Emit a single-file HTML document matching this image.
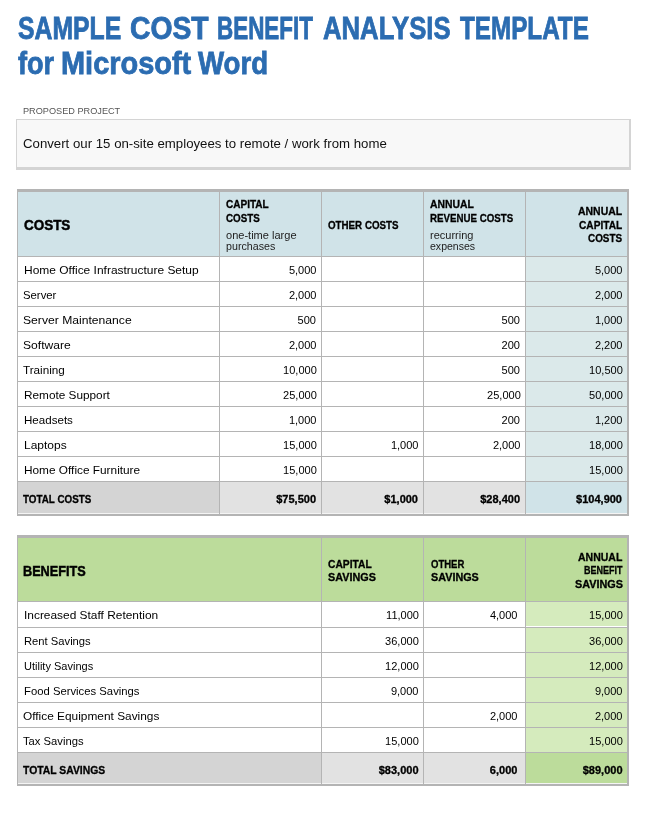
<!DOCTYPE html>
<html lang="en"><head><meta charset="utf-8"><title>Sample Cost Benefit Analysis Template</title>
<style>
html,body{margin:0;padding:0;background:#fff}
#pg{position:relative;width:646px;height:814px;overflow:hidden;background:#fff;font-family:'Liberation Sans', sans-serif}
#pg div{position:absolute}
.t{white-space:nowrap;line-height:1;height:0;overflow:visible}
.t span{position:absolute;left:0;bottom:0;display:block;transform-origin:0 100%}
.t.r span{left:auto;right:0;transform-origin:100% 100%}
</style></head><body><div id="pg">
<div style="left:16px;top:119px;width:615px;height:51px;background:#d4d4d4"></div>
<div style="left:17px;top:120px;width:612px;height:47px;background:#f8f8f8"></div>
<div style="left:17px;top:189px;width:612px;height:327px;background:#b4b4b4"></div>
<div style="left:18px;top:192px;width:201px;height:64px;background:#d0e3e8"></div>
<div style="left:220px;top:192px;width:101px;height:64px;background:#d0e3e8"></div>
<div style="left:322px;top:192px;width:101px;height:64px;background:#d0e3e8"></div>
<div style="left:424px;top:192px;width:101px;height:64px;background:#d0e3e8"></div>
<div style="left:526px;top:192px;width:101px;height:64px;background:#d0e3e8"></div>
<div style="left:18px;top:257px;width:201px;height:24px;background:#fff"></div>
<div style="left:220px;top:257px;width:101px;height:24px;background:#fff"></div>
<div style="left:322px;top:257px;width:101px;height:24px;background:#fff"></div>
<div style="left:424px;top:257px;width:101px;height:24px;background:#fff"></div>
<div style="left:526px;top:257px;width:101px;height:24px;background:#dbe9ea"></div>
<div style="left:18px;top:282px;width:201px;height:24px;background:#fff"></div>
<div style="left:220px;top:282px;width:101px;height:24px;background:#fff"></div>
<div style="left:322px;top:282px;width:101px;height:24px;background:#fff"></div>
<div style="left:424px;top:282px;width:101px;height:24px;background:#fff"></div>
<div style="left:526px;top:282px;width:101px;height:24px;background:#dbe9ea"></div>
<div style="left:18px;top:307px;width:201px;height:24px;background:#fff"></div>
<div style="left:220px;top:307px;width:101px;height:24px;background:#fff"></div>
<div style="left:322px;top:307px;width:101px;height:24px;background:#fff"></div>
<div style="left:424px;top:307px;width:101px;height:24px;background:#fff"></div>
<div style="left:526px;top:307px;width:101px;height:24px;background:#dbe9ea"></div>
<div style="left:18px;top:332px;width:201px;height:24px;background:#fff"></div>
<div style="left:220px;top:332px;width:101px;height:24px;background:#fff"></div>
<div style="left:322px;top:332px;width:101px;height:24px;background:#fff"></div>
<div style="left:424px;top:332px;width:101px;height:24px;background:#fff"></div>
<div style="left:526px;top:332px;width:101px;height:24px;background:#dbe9ea"></div>
<div style="left:18px;top:357px;width:201px;height:24px;background:#fff"></div>
<div style="left:220px;top:357px;width:101px;height:24px;background:#fff"></div>
<div style="left:322px;top:357px;width:101px;height:24px;background:#fff"></div>
<div style="left:424px;top:357px;width:101px;height:24px;background:#fff"></div>
<div style="left:526px;top:357px;width:101px;height:24px;background:#dbe9ea"></div>
<div style="left:18px;top:382px;width:201px;height:24px;background:#fff"></div>
<div style="left:220px;top:382px;width:101px;height:24px;background:#fff"></div>
<div style="left:322px;top:382px;width:101px;height:24px;background:#fff"></div>
<div style="left:424px;top:382px;width:101px;height:24px;background:#fff"></div>
<div style="left:526px;top:382px;width:101px;height:24px;background:#dbe9ea"></div>
<div style="left:18px;top:407px;width:201px;height:24px;background:#fff"></div>
<div style="left:220px;top:407px;width:101px;height:24px;background:#fff"></div>
<div style="left:322px;top:407px;width:101px;height:24px;background:#fff"></div>
<div style="left:424px;top:407px;width:101px;height:24px;background:#fff"></div>
<div style="left:526px;top:407px;width:101px;height:24px;background:#dbe9ea"></div>
<div style="left:18px;top:432px;width:201px;height:24px;background:#fff"></div>
<div style="left:220px;top:432px;width:101px;height:24px;background:#fff"></div>
<div style="left:322px;top:432px;width:101px;height:24px;background:#fff"></div>
<div style="left:424px;top:432px;width:101px;height:24px;background:#fff"></div>
<div style="left:526px;top:432px;width:101px;height:24px;background:#dbe9ea"></div>
<div style="left:18px;top:457px;width:201px;height:24px;background:#fff"></div>
<div style="left:220px;top:457px;width:101px;height:24px;background:#fff"></div>
<div style="left:322px;top:457px;width:101px;height:24px;background:#fff"></div>
<div style="left:424px;top:457px;width:101px;height:24px;background:#fff"></div>
<div style="left:526px;top:457px;width:101px;height:24px;background:#dbe9ea"></div>
<div style="left:18px;top:482px;width:201px;height:31px;background:#d4d4d4"></div>
<div style="left:220px;top:482px;width:101px;height:31px;background:#e2e2e2"></div>
<div style="left:322px;top:482px;width:101px;height:31px;background:#e2e2e2"></div>
<div style="left:424px;top:482px;width:101px;height:31px;background:#e2e2e2"></div>
<div style="left:526px;top:482px;width:101px;height:31px;background:#d0e3e8"></div>
<div style="left:18px;top:513px;width:201px;height:1px;background:#f4f4f4"></div>
<div style="left:220px;top:513px;width:101px;height:1px;background:#f4f4f4"></div>
<div style="left:322px;top:513px;width:101px;height:1px;background:#f4f4f4"></div>
<div style="left:424px;top:513px;width:101px;height:1px;background:#f4f4f4"></div>
<div style="left:526px;top:513px;width:101px;height:1px;background:#f4f4f4"></div>
<div style="left:17px;top:535px;width:612px;height:251px;background:#b4b4b4"></div>
<div style="left:18px;top:538px;width:303px;height:63px;background:#bcdc9b"></div>
<div style="left:322px;top:538px;width:101px;height:63px;background:#bcdc9b"></div>
<div style="left:424px;top:538px;width:101px;height:63px;background:#bcdc9b"></div>
<div style="left:526px;top:538px;width:101px;height:63px;background:#bcdc9b"></div>
<div style="left:18px;top:602px;width:303px;height:25px;background:#fff"></div>
<div style="left:322px;top:602px;width:101px;height:25px;background:#fff"></div>
<div style="left:424px;top:602px;width:101px;height:25px;background:#fff"></div>
<div style="left:526px;top:602px;width:101px;height:25px;background:#d5ebbd"></div>
<div style="left:18px;top:628px;width:303px;height:24px;background:#fff"></div>
<div style="left:322px;top:628px;width:101px;height:24px;background:#fff"></div>
<div style="left:424px;top:628px;width:101px;height:24px;background:#fff"></div>
<div style="left:526px;top:628px;width:101px;height:24px;background:#d5ebbd"></div>
<div style="left:18px;top:653px;width:303px;height:24px;background:#fff"></div>
<div style="left:322px;top:653px;width:101px;height:24px;background:#fff"></div>
<div style="left:424px;top:653px;width:101px;height:24px;background:#fff"></div>
<div style="left:526px;top:653px;width:101px;height:24px;background:#d5ebbd"></div>
<div style="left:18px;top:678px;width:303px;height:24px;background:#fff"></div>
<div style="left:322px;top:678px;width:101px;height:24px;background:#fff"></div>
<div style="left:424px;top:678px;width:101px;height:24px;background:#fff"></div>
<div style="left:526px;top:678px;width:101px;height:24px;background:#d5ebbd"></div>
<div style="left:18px;top:703px;width:303px;height:24px;background:#fff"></div>
<div style="left:322px;top:703px;width:101px;height:24px;background:#fff"></div>
<div style="left:424px;top:703px;width:101px;height:24px;background:#fff"></div>
<div style="left:526px;top:703px;width:101px;height:24px;background:#d5ebbd"></div>
<div style="left:18px;top:728px;width:303px;height:24px;background:#fff"></div>
<div style="left:322px;top:728px;width:101px;height:24px;background:#fff"></div>
<div style="left:424px;top:728px;width:101px;height:24px;background:#fff"></div>
<div style="left:526px;top:728px;width:101px;height:24px;background:#d5ebbd"></div>
<div style="left:18px;top:753px;width:303px;height:30px;background:#d4d4d4"></div>
<div style="left:322px;top:753px;width:101px;height:30px;background:#e2e2e2"></div>
<div style="left:424px;top:753px;width:101px;height:30px;background:#e2e2e2"></div>
<div style="left:526px;top:753px;width:101px;height:30px;background:#bcdc9b"></div>
<div style="left:18px;top:783px;width:303px;height:1px;background:#f4f4f4"></div>
<div style="left:322px;top:783px;width:101px;height:1px;background:#f4f4f4"></div>
<div style="left:424px;top:783px;width:101px;height:1px;background:#f4f4f4"></div>
<div style="left:526px;top:783px;width:101px;height:1px;background:#f4f4f4"></div>
<div style="left:526px;top:626px;width:101px;height:1px;background:#fff"></div>
<div class="t" style="left:18.32px;top:44.00px;font-size:31px;color:#2b6cb1;font-weight:bold;-webkit-text-stroke:0.8px #2b6cb1"><span style="transform:scaleX(0.7989)">SAMPLE</span></div>
<div class="t" style="left:129.75px;top:44.00px;font-size:31px;color:#2b6cb1;font-weight:bold;-webkit-text-stroke:0.8px #2b6cb1"><span style="transform:scaleX(0.9130)">COST</span></div>
<div class="t" style="left:217.14px;top:44.00px;font-size:31px;color:#2b6cb1;font-weight:bold;-webkit-text-stroke:0.8px #2b6cb1"><span style="transform:scaleX(0.7233)">BENEFIT</span></div>
<div class="t" style="left:323.33px;top:44.00px;font-size:31px;color:#2b6cb1;font-weight:bold;-webkit-text-stroke:0.8px #2b6cb1"><span style="transform:scaleX(0.8291)">ANALYSIS</span></div>
<div class="t" style="left:460.01px;top:44.00px;font-size:31px;color:#2b6cb1;font-weight:bold;-webkit-text-stroke:0.8px #2b6cb1"><span style="transform:scaleX(0.7818)">TEMPLATE</span></div>
<div class="t" style="left:18.45px;top:79.00px;font-size:31px;color:#2b6cb1;font-weight:bold;-webkit-text-stroke:0.8px #2b6cb1"><span style="transform:scaleX(0.8750)">for</span></div>
<div class="t" style="left:60.91px;top:79.00px;font-size:31px;color:#2b6cb1;font-weight:bold;-webkit-text-stroke:0.8px #2b6cb1"><span style="transform:scaleX(0.9335)">Microsoft</span></div>
<div class="t" style="left:197.56px;top:79.00px;font-size:31px;color:#2b6cb1;font-weight:bold;-webkit-text-stroke:0.8px #2b6cb1"><span style="transform:scaleX(0.8916)">Word</span></div>
<div class="t" style="left:23.00px;top:116.20px;font-size:9.2px;color:#555"><span style="transform:scaleX(0.9970)">PROPOSED PROJECT</span></div>
<div class="t" style="left:22.70px;top:150.70px;font-size:12.7px;color:#111"><span style="transform:scaleX(1.0421)">Convert our 15 on-site employees to remote / work from home</span></div>
<div class="t" style="left:24.02px;top:232.30px;font-size:15.3px;color:#000;font-weight:bold;-webkit-text-stroke:0.5px #000"><span style="transform:scaleX(0.8794)">COSTS</span></div>
<div class="t" style="left:226.14px;top:209.67px;font-size:10.67px;color:#000;font-weight:bold;-webkit-text-stroke:0.3px #000"><span style="transform:scaleX(0.9421)">CAPITAL</span></div>
<div class="t" style="left:226.14px;top:223.67px;font-size:10.67px;color:#000;font-weight:bold;-webkit-text-stroke:0.3px #000"><span style="transform:scaleX(0.9187)">COSTS</span></div>
<div class="t" style="left:225.70px;top:241.00px;font-size:10px;color:#222"><span style="transform:scaleX(1.1032)">one-time large</span></div>
<div class="t" style="left:225.70px;top:252.00px;font-size:10px;color:#222"><span style="transform:scaleX(1.0685)">purchases</span></div>
<div class="t" style="left:327.74px;top:230.67px;font-size:10.67px;color:#000;font-weight:bold;-webkit-text-stroke:0.3px #000"><span style="transform:scaleX(0.9163)">OTHER COSTS</span></div>
<div class="t" style="left:429.75px;top:209.67px;font-size:10.67px;color:#000;font-weight:bold;-webkit-text-stroke:0.3px #000"><span style="transform:scaleX(0.9743)">ANNUAL</span></div>
<div class="t" style="left:429.74px;top:223.67px;font-size:10.67px;color:#000;font-weight:bold;-webkit-text-stroke:0.3px #000"><span style="transform:scaleX(0.9116)">REVENUE COSTS</span></div>
<div class="t" style="left:429.60px;top:241.00px;font-size:10px;color:#222"><span style="transform:scaleX(1.1004)">recurring</span></div>
<div class="t" style="left:429.60px;top:252.00px;font-size:10px;color:#222"><span style="transform:scaleX(1.0536)">expenses</span></div>
<div class="t" style="left:577.55px;top:216.67px;font-size:10.67px;color:#000;font-weight:bold;-webkit-text-stroke:0.3px #000"><span style="transform:scaleX(0.9808)">ANNUAL</span></div>
<div class="t" style="left:578.54px;top:230.67px;font-size:10.67px;color:#000;font-weight:bold;-webkit-text-stroke:0.3px #000"><span style="transform:scaleX(0.9508)">CAPITAL</span></div>
<div class="t" style="left:588.14px;top:243.67px;font-size:10.67px;color:#000;font-weight:bold;-webkit-text-stroke:0.3px #000"><span style="transform:scaleX(0.9295)">COSTS</span></div>
<div class="t" style="left:23.90px;top:276.41px;font-size:11.4px;color:#000"><span style="transform:scaleX(1.0503)">Home Office Infrastructure Setup</span></div>
<div class="t r" style="left:316.40px;top:276.41px;font-size:11.4px;color:#000"><span style="transform:scaleX(0.9684)">5,000</span></div>
<div class="t r" style="left:622.40px;top:276.41px;font-size:11.4px;color:#000"><span style="transform:scaleX(0.9684)">5,000</span></div>
<div class="t" style="left:23.30px;top:301.41px;font-size:11.4px;color:#000"><span style="transform:scaleX(0.9954)">Server</span></div>
<div class="t r" style="left:316.40px;top:301.41px;font-size:11.4px;color:#000"><span style="transform:scaleX(0.9684)">2,000</span></div>
<div class="t r" style="left:622.40px;top:301.41px;font-size:11.4px;color:#000"><span style="transform:scaleX(0.9684)">2,000</span></div>
<div class="t" style="left:23.30px;top:326.41px;font-size:11.4px;color:#000"><span style="transform:scaleX(1.0659)">Server Maintenance</span></div>
<div class="t r" style="left:316.40px;top:326.41px;font-size:11.4px;color:#000"><span style="transform:scaleX(0.9684)">500</span></div>
<div class="t r" style="left:520.40px;top:326.41px;font-size:11.4px;color:#000"><span style="transform:scaleX(0.9684)">500</span></div>
<div class="t r" style="left:622.40px;top:326.41px;font-size:11.4px;color:#000"><span style="transform:scaleX(0.9684)">1,000</span></div>
<div class="t" style="left:23.30px;top:351.41px;font-size:11.4px;color:#000"><span style="transform:scaleX(1.0602)">Software</span></div>
<div class="t r" style="left:316.40px;top:351.41px;font-size:11.4px;color:#000"><span style="transform:scaleX(0.9684)">2,000</span></div>
<div class="t r" style="left:520.40px;top:351.41px;font-size:11.4px;color:#000"><span style="transform:scaleX(0.9684)">200</span></div>
<div class="t r" style="left:622.40px;top:351.41px;font-size:11.4px;color:#000"><span style="transform:scaleX(0.9684)">2,200</span></div>
<div class="t" style="left:23.20px;top:376.41px;font-size:11.4px;color:#000"><span style="transform:scaleX(1.0274)">Training</span></div>
<div class="t r" style="left:316.40px;top:376.41px;font-size:11.4px;color:#000"><span style="transform:scaleX(0.9684)">10,000</span></div>
<div class="t r" style="left:520.40px;top:376.41px;font-size:11.4px;color:#000"><span style="transform:scaleX(0.9684)">500</span></div>
<div class="t r" style="left:622.40px;top:376.41px;font-size:11.4px;color:#000"><span style="transform:scaleX(0.9684)">10,500</span></div>
<div class="t" style="left:23.90px;top:401.41px;font-size:11.4px;color:#000"><span style="transform:scaleX(1.0349)">Remote Support</span></div>
<div class="t r" style="left:316.40px;top:401.41px;font-size:11.4px;color:#000"><span style="transform:scaleX(0.9684)">25,000</span></div>
<div class="t r" style="left:520.40px;top:401.41px;font-size:11.4px;color:#000"><span style="transform:scaleX(0.9684)">25,000</span></div>
<div class="t r" style="left:622.40px;top:401.41px;font-size:11.4px;color:#000"><span style="transform:scaleX(0.9684)">50,000</span></div>
<div class="t" style="left:23.90px;top:426.41px;font-size:11.4px;color:#000"><span style="transform:scaleX(1.0160)">Headsets</span></div>
<div class="t r" style="left:316.40px;top:426.41px;font-size:11.4px;color:#000"><span style="transform:scaleX(0.9684)">1,000</span></div>
<div class="t r" style="left:520.40px;top:426.41px;font-size:11.4px;color:#000"><span style="transform:scaleX(0.9684)">200</span></div>
<div class="t r" style="left:622.40px;top:426.41px;font-size:11.4px;color:#000"><span style="transform:scaleX(0.9684)">1,200</span></div>
<div class="t" style="left:23.90px;top:451.41px;font-size:11.4px;color:#000"><span style="transform:scaleX(1.0529)">Laptops</span></div>
<div class="t r" style="left:316.40px;top:451.41px;font-size:11.4px;color:#000"><span style="transform:scaleX(0.9684)">15,000</span></div>
<div class="t r" style="left:418.40px;top:451.41px;font-size:11.4px;color:#000"><span style="transform:scaleX(0.9684)">1,000</span></div>
<div class="t r" style="left:520.40px;top:451.41px;font-size:11.4px;color:#000"><span style="transform:scaleX(0.9684)">2,000</span></div>
<div class="t r" style="left:622.40px;top:451.41px;font-size:11.4px;color:#000"><span style="transform:scaleX(0.9684)">18,000</span></div>
<div class="t" style="left:23.90px;top:476.41px;font-size:11.4px;color:#000"><span style="transform:scaleX(1.0385)">Home Office Furniture</span></div>
<div class="t r" style="left:316.40px;top:476.41px;font-size:11.4px;color:#000"><span style="transform:scaleX(0.9684)">15,000</span></div>
<div class="t r" style="left:622.40px;top:476.41px;font-size:11.4px;color:#000"><span style="transform:scaleX(0.9684)">15,000</span></div>
<div class="t" style="left:23.44px;top:504.67px;font-size:10.67px;color:#000;font-weight:bold;-webkit-text-stroke:0.3px #000"><span style="transform:scaleX(0.9222)">TOTAL COSTS</span></div>
<div class="t r" style="left:316.00px;top:505.00px;font-size:11px;color:#000;font-weight:bold;-webkit-text-stroke:0.3px #000"><span>$75,500</span></div>
<div class="t r" style="left:418.00px;top:505.00px;font-size:11px;color:#000;font-weight:bold;-webkit-text-stroke:0.3px #000"><span>$1,000</span></div>
<div class="t r" style="left:520.00px;top:505.00px;font-size:11px;color:#000;font-weight:bold;-webkit-text-stroke:0.3px #000"><span>$28,400</span></div>
<div class="t r" style="left:622.00px;top:505.00px;font-size:11px;color:#000;font-weight:bold;-webkit-text-stroke:0.3px #000"><span>$104,900</span></div>
<div class="t" style="left:23.28px;top:578.30px;font-size:15.3px;color:#000;font-weight:bold;-webkit-text-stroke:0.5px #000"><span style="transform:scaleX(0.8287)">BENEFITS</span></div>
<div class="t" style="left:328.44px;top:569.67px;font-size:10.67px;color:#000;font-weight:bold;-webkit-text-stroke:0.3px #000"><span style="transform:scaleX(0.9616)">CAPITAL</span></div>
<div class="t" style="left:328.45px;top:582.67px;font-size:10.67px;color:#000;font-weight:bold;-webkit-text-stroke:0.3px #000"><span style="transform:scaleX(1.0155)">SAVINGS</span></div>
<div class="t" style="left:430.53px;top:569.67px;font-size:10.67px;color:#000;font-weight:bold;-webkit-text-stroke:0.3px #000"><span style="transform:scaleX(0.8944)">OTHER</span></div>
<div class="t" style="left:430.55px;top:582.67px;font-size:10.67px;color:#000;font-weight:bold;-webkit-text-stroke:0.3px #000"><span style="transform:scaleX(1.0134)">SAVINGS</span></div>
<div class="t" style="left:578.35px;top:562.67px;font-size:10.67px;color:#000;font-weight:bold;-webkit-text-stroke:0.3px #000"><span style="transform:scaleX(0.9852)">ANNUAL</span></div>
<div class="t" style="left:584.23px;top:575.67px;font-size:10.67px;color:#000;font-weight:bold;-webkit-text-stroke:0.3px #000"><span style="transform:scaleX(0.8453)">BENEFIT</span></div>
<div class="t" style="left:575.25px;top:589.67px;font-size:10.67px;color:#000;font-weight:bold;-webkit-text-stroke:0.3px #000"><span style="transform:scaleX(1.0177)">SAVINGS</span></div>
<div class="t" style="left:23.65px;top:621.41px;font-size:11.4px;color:#000"><span style="transform:scaleX(1.0457)">Increased Staff Retention</span></div>
<div class="t r" style="left:418.90px;top:621.41px;font-size:11.4px;color:#000"><span style="transform:scaleX(0.9684)">11,000</span></div>
<div class="t r" style="left:517.80px;top:621.41px;font-size:11.4px;color:#000"><span style="transform:scaleX(0.9684)">4,000</span></div>
<div class="t r" style="left:622.90px;top:621.41px;font-size:11.4px;color:#000"><span style="transform:scaleX(0.9684)">15,000</span></div>
<div class="t" style="left:23.90px;top:647.41px;font-size:11.4px;color:#000"><span style="transform:scaleX(0.9845)">Rent Savings</span></div>
<div class="t r" style="left:418.90px;top:647.41px;font-size:11.4px;color:#000"><span style="transform:scaleX(0.9684)">36,000</span></div>
<div class="t r" style="left:622.90px;top:647.41px;font-size:11.4px;color:#000"><span style="transform:scaleX(0.9684)">36,000</span></div>
<div class="t" style="left:23.90px;top:672.41px;font-size:11.4px;color:#000"><span style="transform:scaleX(0.9675)">Utility Savings</span></div>
<div class="t r" style="left:418.90px;top:672.41px;font-size:11.4px;color:#000"><span style="transform:scaleX(0.9684)">12,000</span></div>
<div class="t r" style="left:622.90px;top:672.41px;font-size:11.4px;color:#000"><span style="transform:scaleX(0.9684)">12,000</span></div>
<div class="t" style="left:23.90px;top:697.41px;font-size:11.4px;color:#000"><span style="transform:scaleX(0.9915)">Food Services Savings</span></div>
<div class="t r" style="left:418.90px;top:697.41px;font-size:11.4px;color:#000"><span style="transform:scaleX(0.9684)">9,000</span></div>
<div class="t r" style="left:622.90px;top:697.41px;font-size:11.4px;color:#000"><span style="transform:scaleX(0.9684)">9,000</span></div>
<div class="t" style="left:23.30px;top:722.41px;font-size:11.4px;color:#000"><span style="transform:scaleX(1.0423)">Office Equipment Savings</span></div>
<div class="t r" style="left:517.80px;top:722.41px;font-size:11.4px;color:#000"><span style="transform:scaleX(0.9684)">2,000</span></div>
<div class="t r" style="left:622.90px;top:722.41px;font-size:11.4px;color:#000"><span style="transform:scaleX(0.9684)">2,000</span></div>
<div class="t" style="left:23.20px;top:747.41px;font-size:11.4px;color:#000"><span style="transform:scaleX(0.9868)">Tax Savings</span></div>
<div class="t r" style="left:418.90px;top:747.41px;font-size:11.4px;color:#000"><span style="transform:scaleX(0.9684)">15,000</span></div>
<div class="t r" style="left:622.90px;top:747.41px;font-size:11.4px;color:#000"><span style="transform:scaleX(0.9684)">15,000</span></div>
<div class="t" style="left:23.45px;top:775.67px;font-size:10.67px;color:#000;font-weight:bold;-webkit-text-stroke:0.3px #000"><span style="transform:scaleX(0.9723)">TOTAL SAVINGS</span></div>
<div class="t r" style="left:418.50px;top:776.00px;font-size:11px;color:#000;font-weight:bold;-webkit-text-stroke:0.3px #000"><span>$83,000</span></div>
<div class="t r" style="left:517.40px;top:776.00px;font-size:11px;color:#000;font-weight:bold;-webkit-text-stroke:0.3px #000"><span>6,000</span></div>
<div class="t r" style="left:622.50px;top:776.00px;font-size:11px;color:#000;font-weight:bold;-webkit-text-stroke:0.3px #000"><span>$89,000</span></div>
</div></body></html>
